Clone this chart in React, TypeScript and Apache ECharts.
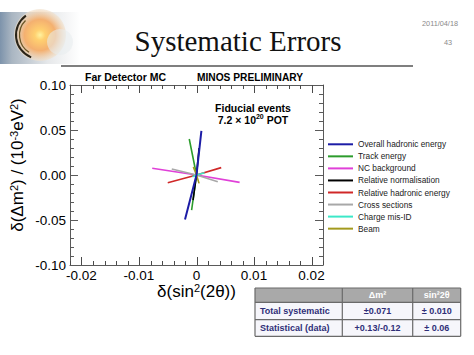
import React, { useEffect, useRef } from "react";
import * as echarts from "echarts";

// ---- data ----
const systNames = [
  "Overall hadronic energy",
  "Track energy",
  "NC background",
  "Relative normalisation",
  "Relative hadronic energy",
  "Cross sections",
  "Charge mis-ID",
  "Beam",
];
const systColors = ["#1c1ca6", "#2c9c2c", "#e040d8", "#000000", "#d02828", "#a8a8a8", "#3ce8c8", "#a39a1e"];
// shifted best fit for +/- variation, relative to nominal
const upSin = [0.00085, -0.00126, -0.0077, 0.00045, 0.0043, -0.0043, 0.0014, -0.00055];
const upDm = [0.049, 0.04, 0.0075, 0.03, 0.0082, 0.0067, 0.0026, 0.009];
const downSin = [-0.002, -0.00085, 0.0075, -0.0006, -0.005, 0.0037, -0.0007, 0.00045];
const downDm = [-0.0495, -0.039, -0.0082, -0.028, -0.0086, -0.0075, -0.002, -0.0093];

const xMajor = [-0.02, -0.01, 0, 0.01, 0.02];
const xMinor = [
  -0.022, -0.02, -0.018, -0.016, -0.014, -0.012, -0.01, -0.008, -0.006, -0.004, -0.002, 0,
  0.002, 0.004, 0.006, 0.008, 0.01, 0.012, 0.014, 0.016, 0.018, 0.02, 0.022,
];
const yMajorInterval = 0.05;

const tableHeader = ["", "Δm²", "sin²2θ"];
const tableRow1 = ["Total systematic", "±0.071", "± 0.010"];
const tableRow2 = ["Statistical (data)", "+0.13/-0.12", "± 0.06"];

const FONT = "Liberation Sans, Arial, Helvetica, sans-serif";
const AX = "#5a5a5a";

export default function App() {
  const ref = useRef<HTMLDivElement>(null);
  useEffect(() => {
    if (!ref.current) return;
    const chart = echarts.init(ref.current, undefined, { renderer: "svg" });

    const series = systNames.map((n, i) => ({
      name: n,
      type: "line",
      xAxisIndex: 0,
      yAxisIndex: 0,
      symbol: "none",
      lineStyle: { color: systColors[i], width: i === 0 ? 2 : 1.6 },
      itemStyle: { color: systColors[i] },
      data: [
        [upSin[i], upDm[i]],
        [0, 0],
        [downSin[i], downDm[i]],
      ],
      z: i === 0 ? 4 : 3,
    }));

    const lineOn = { show: true, onZero: false, lineStyle: { color: AX, width: 1 } };
    const baseX = { type: "value", min: -0.022, max: 0.022, splitLine: { show: false } };
    const baseY = { type: "value", min: -0.1, max: 0.1, splitLine: { show: false } };

    const rich = {
      a: { fontSize: 17, fontFamily: FONT, color: "#000", lineHeight: 18 },
      s: { fontSize: 11, fontFamily: FONT, color: "#000", lineHeight: 11, verticalAlign: "top" },
    };
    const richSmall = {
      b: { fontSize: 10.5, fontWeight: "bold", fontFamily: FONT, color: "#000", lineHeight: 14 },
      t: { fontSize: 7, fontWeight: "bold", fontFamily: FONT, color: "#000", lineHeight: 8, verticalAlign: "top" },
    };

    const cellText = (t: string, x: number, y: number, align: string, color: string) => ({
      type: "text",
      x,
      y,
      style: { text: t, align, verticalAlign: "middle", fill: color, font: `bold 9px ${FONT}` },
    });
    const colX = [255, 342.3, 412.7, 460.7];
    const rowY = [288, 302.3, 319.7, 336.3];
    const TXT = "#2f2f78";

    const tableEls: any[] = [];
    tableEls.push({ type: "rect", shape: { x: colX[0], y: rowY[0], width: colX[3] - colX[0], height: rowY[1] - rowY[0] }, style: { fill: "#a9a9a9" } });
    tableEls.push({ type: "rect", shape: { x: colX[0], y: rowY[1], width: colX[3] - colX[0], height: rowY[3] - rowY[1] }, style: { fill: "#f6f6fb" } });
    rowY.forEach((y) =>
      tableEls.push({ type: "line", shape: { x1: colX[0], y1: y, x2: colX[3], y2: y }, style: { stroke: "#6a6a6a", lineWidth: 1.2 } })
    );
    colX.forEach((x) =>
      tableEls.push({ type: "line", shape: { x1: x, y1: rowY[0], x2: x, y2: rowY[3] }, style: { stroke: "#6a6a6a", lineWidth: 1.2 } })
    );
    const c2 = (colX[1] + colX[2]) / 2;
    const c3 = (colX[2] + colX[3]) / 2;
    tableEls.push(cellText(tableHeader[1], c2, (rowY[0] + rowY[1]) / 2, "center", "#ffffff"));
    tableEls.push(cellText(tableHeader[2], c3, (rowY[0] + rowY[1]) / 2, "center", "#ffffff"));
    [tableRow1, tableRow2].forEach((row, r) => {
      const cy = (rowY[r + 1] + rowY[r + 2]) / 2;
      tableEls.push(cellText(row[0], 260, cy, "left", TXT));
      tableEls.push(cellText(row[1], c2, cy, "center", TXT));
      tableEls.push(cellText(row[2], c3, cy, "center", TXT));
    });

    const logo = {
      type: "group",
      silent: true,
      children: [
        {
          type: "rect",
          shape: { x: 0, y: 12, width: 80, height: 52 },
          style: {
            fill: new echarts.graphic.LinearGradient(0, 0, 1, 0, [
              { offset: 0, color: "#7d93ab" },
              { offset: 0.15, color: "#aab6c2" },
              { offset: 0.6, color: "#e6e8ea" },
              { offset: 1, color: "#ffffff" },
            ]),
          },
        },
        {
          type: "circle",
          shape: { cx: 40, cy: 35, r: 26 },
          style: {
            fill: new echarts.graphic.RadialGradient(0.5, 0.5, 0.5, [
              { offset: 0, color: "#fff3a0" },
              { offset: 0.2, color: "#ffd070" },
              { offset: 0.6, color: "#f4b070" },
              { offset: 1, color: "rgba(240,225,205,0.6)" },
            ]),
          },
        },
        { type: "arc", shape: { cx: 40, cy: 35, r: 24, startAngle: Math.PI * 0.62, endAngle: Math.PI * 1.3 }, style: { stroke: "#2a2418", lineWidth: 2, fill: "none" } },
        { type: "arc", shape: { cx: 40, cy: 35, r: 20.5, startAngle: Math.PI * 0.68, endAngle: Math.PI * 1.25 }, style: { stroke: "#6a5626", lineWidth: 1.3, fill: "none" } },
        { type: "circle", shape: { cx: 60, cy: 42, r: 13 }, style: { fill: "rgba(232,236,238,0.55)" } },
      ],
    };

    const staticGraphics: any[] = [
      logo,
      {
        type: "text",
        x: 238,
        y: 41,
        style: { text: "Systematic Errors", align: "center", verticalAlign: "middle", fill: "#111", font: `29px "Liberation Serif", "Times New Roman", serif` },
      },
      { type: "text", x: 440, y: 23, style: { text: "2011/04/18", align: "center", verticalAlign: "middle", fill: "#8a8a8a", font: `7.3px ${FONT}` } },
      { type: "text", x: 448, y: 42, style: { text: "43", align: "center", verticalAlign: "middle", fill: "#8a8a8a", font: `7.3px ${FONT}` } },
      { type: "line", shape: { x1: 61, y1: 66, x2: 413, y2: 66 }, style: { stroke: "#555", lineWidth: 1.5 } },
      { type: "text", x: 85, y: 77, style: { text: "Far Detector MC", align: "left", verticalAlign: "middle", fill: "#000", font: `bold 10.5px ${FONT}` } },
      { type: "text", x: 197, y: 77, style: { text: "MINOS PRELIMINARY", align: "left", verticalAlign: "middle", fill: "#000", font: `bold 10.2px ${FONT}` } },
      { type: "text", x: 253, y: 108, style: { text: "Fiducial events", align: "center", verticalAlign: "middle", fill: "#000", font: `bold 10.5px ${FONT}` } },
      {
        type: "text",
        x: 253,
        y: 119.5,
        style: { text: "{b|7.2 × 10}{t|20}{b| POT}", rich: richSmall, align: "center", verticalAlign: "middle" },
      },
      {
        type: "text",
        x: 17,
        y: 165,
        rotation: Math.PI / 2,
        style: { text: "{a|δ(Δm}{s|2}{a|) / (10}{s|-3}{a|eV}{s|2}{a|)}", rich, align: "center", verticalAlign: "middle" },
      },
      ...tableEls,
    ];

    chart.setOption({
      animation: false,
      backgroundColor: "#ffffff",
      grid: { left: 70, top: 85, width: 253, height: 180, containLabel: false, outerBoundsMode: "none" },
      xAxis: [
        {
          ...baseX,
          position: "bottom",
          axisLine: lineOn,
          axisTick: { show: false },
          axisLabel: {
            show: true,
            customValues: xMajor,
            formatter: (v: number) => (Math.abs(v) < 1e-9 ? "0" : v.toFixed(2)),
            fontSize: 13.5,
            fontFamily: FONT,
            color: "#000",
            margin: 3,
          },
          name: "{a|δ(sin}{s|2}{a|(2θ))}",
          nameLocation: "middle",
          nameGap: 17,
          nameMoveOverlap: false,
          nameTextStyle: { rich, verticalAlign: "top" },
        },
        {
          ...baseX,
          position: "top",
          axisLine: lineOn,
          axisTick: { show: false },
          axisLabel: { show: false },
        },
      ],
      yAxis: [
        {
          ...baseY,
          position: "left",
          interval: yMajorInterval,
          axisLine: lineOn,
          axisTick: { show: true, inside: true, length: 8, lineStyle: { color: AX } },
          minorTick: { show: true, splitNumber: 5, length: 4, lineStyle: { color: AX } },
          axisLabel: {
            formatter: (v: number) => v.toFixed(2),
            fontSize: 13.5,
            fontFamily: FONT,
            color: "#000",
            margin: 4,
          },
        },
        {
          ...baseY,
          position: "right",
          interval: yMajorInterval,
          axisLine: lineOn,
          axisTick: { show: true, inside: true, length: 8, lineStyle: { color: AX } },
          minorTick: { show: true, splitNumber: 5, length: 4, lineStyle: { color: AX } },
          axisLabel: { show: false },
        },
      ],
      legend: {
        data: systNames,
        orient: "vertical",
        left: 327,
        top: 140.3,
        padding: 0,
        itemWidth: 25,
        itemHeight: 1,
        itemGap: 4.05,
        itemStyle: { opacity: 0 },
        textStyle: { fontSize: 8.3, lineHeight: 8, fontFamily: FONT, color: "#222" },
      },
      series,
      graphic: staticGraphics,
    });

    // x-axis tick marks on the frame's bottom and top edges, placed through the axis scales
    const tickEls: any[] = [];
    try {
      const yBottom = Number(chart.convertToPixel({ yAxisIndex: 0 }, -0.1));
      const yTop = Number(chart.convertToPixel({ yAxisIndex: 0 }, 0.1));
      const addTicks = (vals: number[], len: number) => {
        vals.forEach((v) => {
          const px = Math.round(Number(chart.convertToPixel({ xAxisIndex: 0 }, v))) + 0.5;
          if (!isFinite(px) || !isFinite(yBottom) || !isFinite(yTop)) return;
          tickEls.push({ type: "line", z: 100, silent: true, shape: { x1: px, y1: yBottom, x2: px, y2: yBottom - len }, style: { stroke: "#4a4a4a", lineWidth: 1 } });
          tickEls.push({ type: "line", z: 100, silent: true, shape: { x1: px, y1: yTop, x2: px, y2: yTop + len }, style: { stroke: "#4a4a4a", lineWidth: 1 } });
        });
      };
      addTicks(xMinor, 4);
      addTicks(xMajor, 8);
    } catch (e) {
      // leave ticks out if conversion is unavailable
    }
    if (tickEls.length) {
      chart.setOption({ graphic: [...staticGraphics, { type: "group", z: 100, children: tickEls }] });
    }

    return () => chart.dispose();
  }, []);
  return <div ref={ref} style={{ position: "fixed", left: 0, top: 0, width: 474, height: 355 }} />;
}
